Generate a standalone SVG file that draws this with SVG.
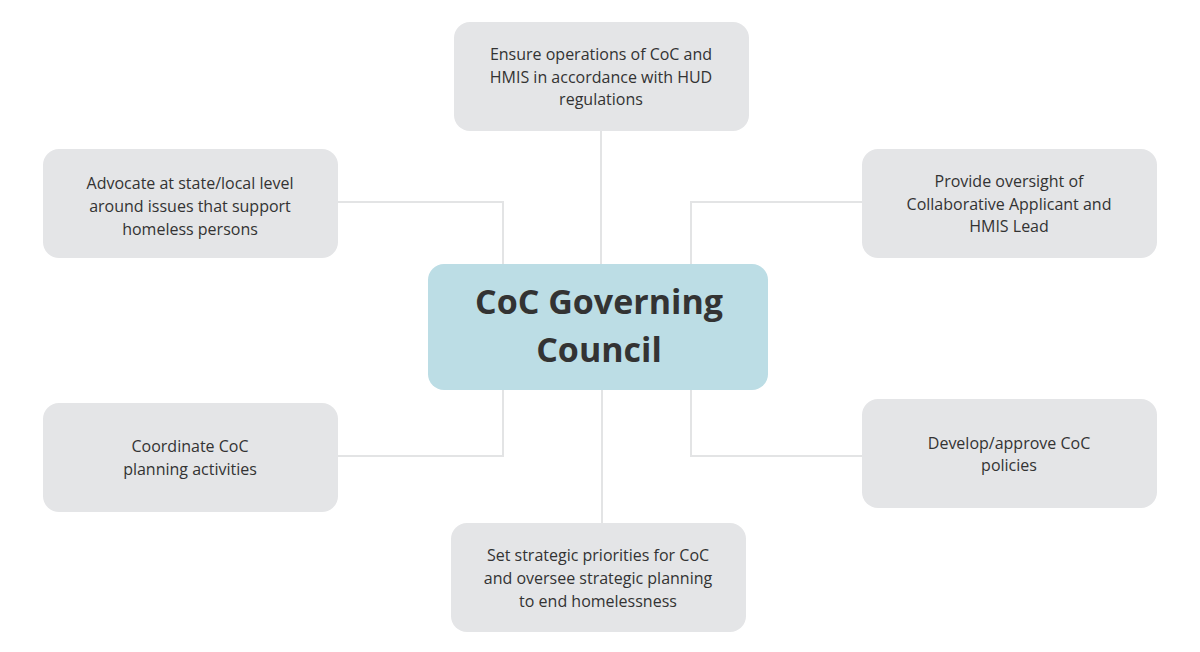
<svg xmlns="http://www.w3.org/2000/svg" width="1200" height="652" viewBox="0 0 1200 652">
<style>
.n{fill:#e4e5e7}
.t{font-family:"Open Sans","Liberation Sans",sans-serif;font-size:16px;fill:#333;text-anchor:middle}
.c{fill:none;stroke:#e3e4e5;stroke-width:2}
.h{font-family:"Open Sans","Liberation Sans",sans-serif;font-size:34px;font-weight:bold;fill:#333;text-anchor:middle}
</style>
<rect width="1200" height="652" fill="#fff"/>
<g id="connectors">
<path class="c" d="M601 131V264"/>
<path class="c" d="M338 202H503V264"/>
<path class="c" d="M862 202H691V264"/>
<path class="c" d="M503 390V456H338"/>
<path class="c" d="M691 390V456H862"/>
<path class="c" d="M602 390V523"/>
</g>
<g id="center"><rect x="428" y="264" width="340" height="126" rx="16" fill="#bcdde5"/>
<text class="h" x="599" y="314">CoC Governing</text><text class="h" x="599" y="362">Council</text></g>
<g id="top"><rect class="n" x="454" y="22" width="295" height="109" rx="16"/>
<text class="t" x="601" y="60">Ensure operations of CoC and</text><text class="t" x="601" y="83">HMIS in accordance with HUD</text><text class="t" x="601" y="105">regulations</text></g>
<g id="lefttop"><rect class="n" x="43" y="149" width="295" height="109" rx="16"/>
<text class="t" x="190" y="189">Advocate at state/local level</text><text class="t" x="190" y="212">around issues that support</text><text class="t" x="190" y="235">homeless persons</text></g>
<g id="righttop"><rect class="n" x="862" y="149" width="295" height="109" rx="16"/>
<text class="t" x="1009" y="187">Provide oversight of</text><text class="t" x="1009" y="210">Collaborative Applicant and</text><text class="t" x="1009" y="232">HMIS Lead</text></g>
<g id="leftbottom"><rect class="n" x="43" y="403" width="295" height="109" rx="16"/>
<text class="t" x="190" y="452">Coordinate CoC</text><text class="t" x="190" y="475">planning activities</text></g>
<g id="rightbottom"><rect class="n" x="862" y="399" width="295" height="109" rx="16"/>
<text class="t" x="1009" y="449">Develop/approve CoC</text><text class="t" x="1009" y="471">policies</text></g>
<g id="bottom"><rect class="n" x="451" y="523" width="295" height="109" rx="16"/>
<text class="t" x="598" y="561">Set strategic priorities for CoC</text><text class="t" x="598" y="584">and oversee strategic planning</text><text class="t" x="598" y="607">to end homelessness</text></g>
</svg>
